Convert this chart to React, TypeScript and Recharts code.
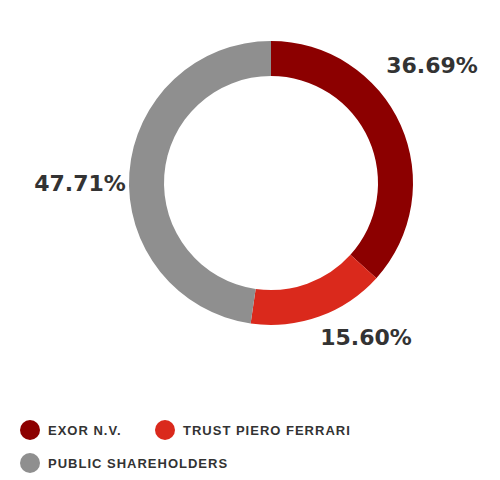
import { PieChart, Pie, Cell, Legend } from 'recharts';

// --- Data ---
const holders = ['EXOR N.V.', 'TRUST PIERO FERRARI', 'PUBLIC SHAREHOLDERS'];
const shares = [36.69, 15.6, 47.71];
const colors = ['#8c0000', '#da291c', '#8f8f8f'];

const data = holders.map((name, i) => ({ name, value: shares[i] }));

// label anchor points (layout only)
const labelPos = [
    { x: 432, y: 65 },
    { x: 366, y: 337 },
    { x: 80, y: 183 },
];

const renderLabel = (props: any) => {
    const p = labelPos[props.index];
    return (
        <text
            x={p.x}
            y={p.y}
            textAnchor="middle"
            dominantBaseline="central"
            fill="#333333"
            fontFamily="DejaVu Sans"
            fontWeight={700}
            fontSize={22}
        >
            {props.value.toFixed(2)}%
        </text>
    );
};

const LegendContent = () => {
    const pos = [
        { left: 20, top: 420 },
        { left: 155, top: 420 },
        { left: 20, top: 453 },
    ];
    return (
        <div>
            {holders.map((h, i) => (
                <div
                    key={h}
                    style={{
                        position: 'absolute',
                        left: pos[i].left,
                        top: pos[i].top,
                        display: 'flex',
                        alignItems: 'center',
                        height: 20,
                    }}
                >
                    <span style={{ width: 20, height: 20, borderRadius: 10, background: colors[i], display: 'inline-block' }} />
                    <span
                        style={{
                            marginLeft: 8,
                            fontFamily: '"Liberation Sans", Arial, sans-serif',
                            fontWeight: 700,
                            fontSize: 13,
                            letterSpacing: 1,
                            color: '#333333',
                        }}
                    >
                        {h}
                    </span>
                </div>
            ))}
        </div>
    );
};

export default function App() {
    return (
        <div style={{ position: 'absolute', left: 0, top: 0, width: 500, height: 480, background: '#fff' }}>
            <PieChart width={500} height={480} margin={{ top: 0, right: 0, bottom: 0, left: 0 }}>
                <Pie
                    data={data}
                    dataKey="value"
                    cx={271}
                    cy={183}
                    innerRadius={107}
                    outerRadius={142}
                    startAngle={90}
                    endAngle={-270}
                    stroke="none"
                    label={renderLabel}
                    labelLine={false}
                    isAnimationActive={false}
                >
                    {data.map((d, i) => (
                        <Cell key={d.name} fill={colors[i]} />
                    ))}
                </Pie>
                <Legend content={<LegendContent />} wrapperStyle={{ left: 0, top: 0, width: 500, height: 480 }} />
            </PieChart>
        </div>
    );
}
